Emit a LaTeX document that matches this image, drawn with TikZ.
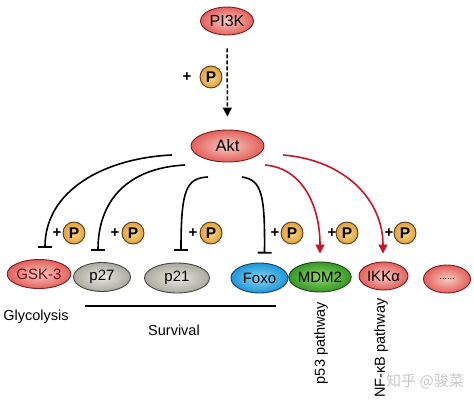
\documentclass[tikz,border=0pt]{standalone}
\usepackage{fontspec}
\setmainfont{Liberation Sans}
\newfontfamily\cjkfont{Noto Sans CJK SC}
\usetikzlibrary{shapes.geometric,arrows.meta,calc}
\definecolor{redline}{RGB}{200,22,40}
\definecolor{pinkin}{RGB}{250,200,192}
\definecolor{pinkout}{RGB}{226,96,92}
\definecolor{pinkedge}{RGB}{120,30,30}
\definecolor{gsktext}{RGB}{105,15,20}
\definecolor{greyin}{RGB}{232,232,224}
\definecolor{greyout}{RGB}{170,170,160}
\definecolor{greyedge}{RGB}{70,70,65}
\definecolor{bluein}{RGB}{130,214,245}
\definecolor{blueout}{RGB}{30,150,215}
\definecolor{blueedge}{RGB}{20,60,110}
\definecolor{greenin}{RGB}{140,215,100}
\definecolor{greenout}{RGB}{55,150,40}
\definecolor{greenedge}{RGB}{25,70,20}
\definecolor{pin}{RGB}{250,215,140}
\definecolor{pout}{RGB}{225,160,60}
\definecolor{pedge}{RGB}{90,60,20}
\tikzset{
  prot/.style={ellipse, inner sep=0pt, line width=0.9pt, font=\fontsize{15}{16}\selectfont},
  redprot/.style={prot, draw=pinkedge, shading=radial, inner color=pinkin, outer color=pinkout},
  greyprot/.style={prot, draw=greyedge, shading=radial, inner color=greyin, outer color=greyout},
  blueprot/.style={prot, draw=blueedge, shading=radial, inner color=bluein, outer color=blueout},
  greenprot/.style={prot, draw=greenedge, shading=radial, inner color=greenin, outer color=greenout},
  phos/.style={circle, minimum size=22pt, inner sep=0pt, line width=0.9pt, draw=pedge,
    shading=radial, inner color=pin, outer color=pout, font=\fontsize{15.5}{16}\selectfont\bfseries},
  plus/.style={font=\fontsize{15}{16}\selectfont\bfseries, inner sep=0pt},
  lbl/.style={font=\fontsize{14.5}{16}\selectfont, inner sep=0pt},
  inhib/.style={line width=1.6pt, -{Bar[width=14pt,line width=1.8pt]}},
  act/.style={line width=1.6pt, draw=redline, -{Triangle[length=9pt,width=9pt]}, redline},
}
\begin{document}
\begin{tikzpicture}[x=1pt,y=-1pt]
\useasboundingbox[fill=white] (0,0) rectangle (474,404);
% top nodes
\node[redprot, minimum width=53pt, minimum height=28pt, font=\fontsize{16}{18}\selectfont] (pi3k) at (227,21) {PI3K};
\node[redprot, minimum width=73pt, minimum height=32pt, font=\fontsize{16.5}{18}\selectfont] (akt) at (227.5,146) {Akt};
\draw[line width=1.5pt, dash pattern=on 4pt off 2pt, -{Triangle[length=9pt,width=9pt]}, shorten <=13pt, shorten >=13pt] (pi3k) -- (akt);
\node[plus] (plus0) at (187,77) {+};
\node[phos] (p0) at (211,77) {P};
% bottom row
\node[redprot, minimum width=54pt, minimum height=29pt, text=gsktext] (gsk) at (39,274) {GSK-3};
\node[greyprot, minimum width=57pt, minimum height=29pt] (p27) at (102,277) {p27};
\node[greyprot, minimum width=65pt, minimum height=30pt] (p21) at (177,278) {p21};
\node[blueprot, minimum width=57pt, minimum height=30pt] (foxo) at (259.5,278) {Foxo};
\node[greenprot, minimum width=47pt, minimum height=30pt] (mdm2) at (320,277) {MDM2};
\node[redprot, minimum width=49pt, minimum height=28pt] (ikk) at (383.5,276) {IKKα};
\node[redprot, minimum width=47pt, minimum height=28pt, font=\fontsize{9}{10}\selectfont] (dots) at (447,279) {......};
% connector start / end coordinates
\coordinate (s1) at ($(akt.center)+(-55.5,9)$);
\coordinate (s2) at ($(akt.center)+(-42.5,19)$);
\coordinate (s3) at ($(akt.center)+(-19.5,31)$);
\coordinate (s4) at ($(akt.center)+(14.5,31)$);
\coordinate (s5) at ($(akt.center)+(37.5,19)$);
\coordinate (s6) at ($(akt.center)+(55.5,9)$);
\coordinate (e1) at ($(gsk.north)+(6,-11)$);
\coordinate (e2) at ($(p27.north)+(-4,-11)$);
\coordinate (e3) at ($(p21.north)+(4,-12)$);
\coordinate (e4) at ($(foxo.north)+(5,-9)$);
\coordinate (e5) at ($(mdm2.north)+(0,-8)$);
\coordinate (e6) at ($(ikk.north)+(-0.5,-8)$);
\draw[inhib] (s1) .. controls (105,158) and (45,190) .. (e1);
\draw[inhib] (s2) .. controls (128,168) and (98,200) .. (e2);
\draw[inhib] (s3) .. controls (186,178) and (181,190) .. (e3);
\draw[inhib] (s4) .. controls (262,180) and (265,195) .. (e4);
\draw[act] (s5) .. controls (302,168) and (320,205) .. (e5);
\draw[act] (s6) .. controls (345,160) and (383,200) .. (e6);
% phosphorylation labels
\node[plus] (plus1) at (57,233) {+};   \node[phos] (p1) at (74,233) {P};
\node[plus] (plus2) at (115,233) {+};  \node[phos] (p2) at (133,233) {P};
\node[plus] (plus3) at (193,233) {+};  \node[phos] (p3) at (211,233) {P};
\node[plus] (plus4) at (275,233) {+};  \node[phos] (p4) at (292,233) {P};
\node[plus] (plus5) at (332,233) {+};  \node[phos] (p5) at (347,233) {P};
\node[plus] (plus6) at (389,233) {+};  \node[phos] (p6) at (405,233) {P};
% labels
\node[lbl] (glyc) at (36,317) {Glycolysis};
\draw[line width=1.5pt] (85,306) -- (276,306);
\node[lbl] (surv) at (174,330) {Survival};
\node[lbl, rotate=90] (p53) at (321,343) {p53 pathway};
\node[lbl, rotate=90] (nfkb) at (381,348) {NF-κB pathway};
\node[font=\cjkfont\fontsize{15}{16}\selectfont, text=black!22, inner sep=0pt] (wm) at (425,381) {知乎 @骏菜};
\end{tikzpicture}
\end{document}
